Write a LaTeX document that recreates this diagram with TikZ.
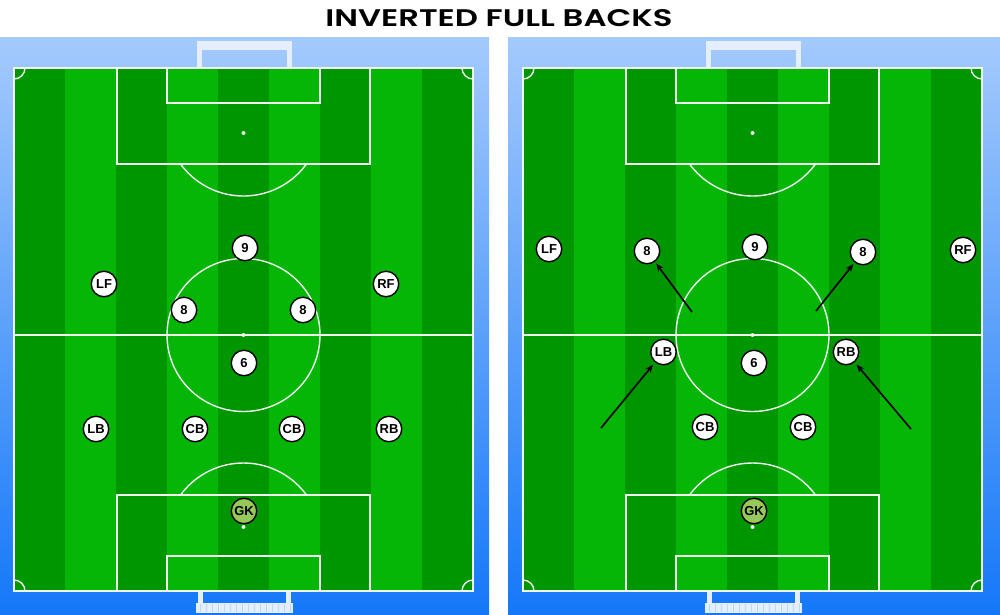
\documentclass[tikz,border=0pt]{standalone}
\usepackage{fontspec}
\setmainfont{Liberation Sans}
\newfontfamily\titlefont{Poppins}[UprightFont=* SemiBold]
\usetikzlibrary{arrows.meta}
\definecolor{dkgreen}{RGB}{0,150,0}
\definecolor{ltgreen}{RGB}{6,182,6}
\definecolor{bluetop}{RGB}{164,202,252}
\definecolor{bluebot}{RGB}{20,120,248}
\definecolor{pline}{RGB}{238,250,238}
\definecolor{gkfill}{RGB}{150,200,90}
\definecolor{goalc}{RGB}{228,238,252}
\tikzset{
  pitchline/.style={draw=pline,line width=1.4pt},
  player/.style={circle,draw=black,line width=1.4pt,fill=white,minimum size=25.5pt,inner sep=0pt,font=\bfseries\fontsize{13}{13}\selectfont},
  keeper/.style={player,fill=gkfill},
  runarrow/.style={line width=1.7pt,-{Stealth[length=8pt,width=6.5pt]}}
}
\newcommand{\pitchbase}{%
  \fill[ltgreen] (14,68) rectangle (473,591);
  \foreach \i in {0,2,4,6,8} {\fill[dkgreen] ({14+51*\i},68) rectangle ({65+51*\i},591);}
  % goals
  \fill[goalc] (197,41) rectangle (292,50);
  \fill[goalc] (197,50) rectangle (202,68);
  \fill[goalc] (287,50) rectangle (292,68);
  \foreach \k in {205,215,...,285} {\draw[white!70!bluetop,line width=0.4pt] (\k,42) -- (\k,49);}
  \fill[goalc] (198,591) rectangle (203,604);
  \fill[goalc] (286,591) rectangle (291,604);
  \fill[goalc] (196,603) rectangle (293,613);
  \foreach \k in {200,206,...,290} {\draw[white!70!bluebot,line width=0.4pt] (\k,604) -- (\k,612);}
  % lines
  \draw[pitchline] (14,68) rectangle (473,591);
  \draw[pitchline] (14,335) -- (473,335);
  \draw[pitchline] (243.5,335) circle (76.5);
  \fill[pline] (243.5,335) circle (2);
  \draw[pitchline] (117,68) rectangle (370,164);
  \draw[pitchline] (167,68) rectangle (320,103);
  \fill[pline] (243.5,133) circle (2);
  \draw[pitchline] (117,495) rectangle (370,591);
  \draw[pitchline] (167,556) rectangle (320,591);
  \fill[pline] (243.5,527) circle (2);
  \begin{scope}
    \clip (100,164) rectangle (390,260);
    \draw[pitchline] (243.5,118) circle (78);
  \end{scope}
  \begin{scope}
    \clip (100,400) rectangle (390,495);
    \draw[pitchline] (243.5,541) circle (78);
  \end{scope}
  \begin{scope}
    \clip (14,68) rectangle (473,591);
    \draw[pitchline] (14,68) circle (11);
    \draw[pitchline] (473,68) circle (11);
    \draw[pitchline] (14,591) circle (11);
    \draw[pitchline] (473,591) circle (11);
  \end{scope}
}
\begin{document}
\begin{tikzpicture}[x=1pt,y=-1pt]
\useasboundingbox (0,0) rectangle (1000,614);
\fill[white] (0,0) rectangle (1000,614);
\node[inner sep=0pt] (title) at (499,18.5) {\resizebox{347pt}{17pt}{\titlefont INVERTED FULL BACKS}};
\shade[top color=bluetop,bottom color=bluebot] (0,37) rectangle (489,614);
\shade[top color=bluetop,bottom color=bluebot] (508,37) rectangle (1000,614);
\begin{scope}
  \pitchbase
\end{scope}
\begin{scope}[xshift=509pt]
  \pitchbase
\end{scope}
% left panel players
\node[player] (l9) at (245,248) {9};
\node[player] (lLF) at (104,284) {LF};
\node[player] (lRF) at (386,284) {RF};
\node[player] (l8a) at (184,310) {8};
\node[player] (l8b) at (303,310) {8};
\node[player] (l6) at (244,363) {6};
\node[player] (lLB) at (96,429) {LB};
\node[player] (lCBa) at (195,429) {CB};
\node[player] (lCBb) at (292,429) {CB};
\node[player] (lRB) at (389,429) {RB};
\node[keeper] (lGK) at (244,511) {GK};
% right panel players
\node[player] (rLF) at (549,249) {LF};
\node[player] (r8a) at (647,251) {8};
\node[player] (r9) at (755,247) {9};
\node[player] (r8b) at (863,252) {8};
\node[player] (rRF) at (963,250) {RF};
\node[player] (rLB) at (663.5,352) {LB};
\node[player] (r6) at (754,363) {6};
\node[player] (rRB) at (846,352) {RB};
\node[player] (rCBa) at (705,427) {CB};
\node[player] (rCBb) at (803,427) {CB};
\node[keeper] (rGK) at (754,511) {GK};
% arrows
\coordinate (s1) at (692,312);
\coordinate (s2) at (816,311);
\coordinate (s3) at (601,428);
\coordinate (s4) at (911,429);
\draw[runarrow,shorten >=2pt] (s1) -- (r8a);
\draw[runarrow,shorten >=2pt] (s2) -- (r8b);
\draw[runarrow,shorten >=3pt] (s3) -- (rLB);
\draw[runarrow,shorten >=3pt] (s4) -- (rRB);
\end{tikzpicture}
\end{document}
